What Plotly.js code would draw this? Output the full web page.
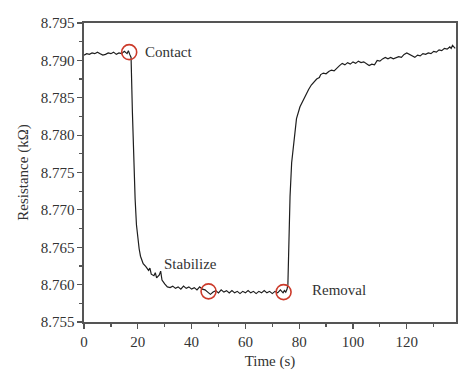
<!DOCTYPE html>
<html>
<head>
<meta charset="utf-8">
<script src="https://cdn.plot.ly/plotly-3.0.1.min.js"></script>
<style>html,body{margin:0;padding:0;background:#fff;}#chart{width:474px;height:384px;}</style>
</head>
<body>
<div id="chart"></div>
<script>
// Time (s)
const timeS = [0,1,2,3,4,5,6,7,8,9,10,11,12,13,14,15,16,16.5,17,17.5,18,18.5,19,19.5,20,20.5,21,21.5,22,23,24,24.5,25,26,26.5,27,28,28.5,29,30,31,32,33,34,35,36,37,38,39,40,41,42,43,44,45,46,47,48,49,50,51,52,53,54,55,56,57,58,59,60,61,62,63,64,65,66,67,68,69,70,71,72,73,74,74.5,75,75.5,75.8,76.3,76.6,77.2,78.4,79,80.3,81.5,82.5,83.5,84.5,85.5,86.5,87.5,88,89,90,91,92,93,94,95,96,97,98,99,100,101,102,103,104,105,106,107,108,109,110,111,112,113,114,115,116,117,118,119,120,121,122,123,124,125,126,127,128,129,130,131,132,133,134,135,136,136.5,137,138];
// Resistance (kOhm)
const resistance = [8.7907,8.7909,8.7908,8.7910,8.7909,8.7911,8.7909,8.7907,8.7908,8.7910,8.7909,8.7911,8.7908,8.7910,8.7909,8.7912,8.7909,8.7913,8.7908,8.7904,8.7830,8.7760,8.7715,8.7680,8.7662,8.7648,8.7638,8.7632,8.7628,8.7624,8.7619,8.7622,8.7614,8.7612,8.7616,8.7609,8.7613,8.7618,8.7606,8.7601,8.7597,8.7596,8.7598,8.7595,8.7597,8.7594,8.7598,8.7595,8.7597,8.7594,8.7596,8.7593,8.7597,8.7594,8.7593,8.7590,8.7587,8.7590,8.7592,8.7589,8.7593,8.7590,8.7592,8.7589,8.7592,8.7589,8.7591,8.7588,8.7591,8.7589,8.7592,8.7589,8.7591,8.7588,8.7591,8.7589,8.7592,8.7589,8.7591,8.7588,8.7591,8.7589,8.7593,8.7589,8.7592,8.7590,8.7594,8.7600,8.7690,8.7718,8.7763,8.7807,8.7822,8.7838,8.7847,8.7855,8.7861,8.7867,8.7871,8.7875,8.7877,8.7881,8.7883,8.7882,8.7885,8.7887,8.7886,8.7890,8.7893,8.7896,8.7894,8.7897,8.7895,8.7898,8.7896,8.7899,8.7897,8.7898,8.7895,8.7893,8.7895,8.7894,8.7900,8.7899,8.7902,8.7904,8.7902,8.7904,8.7902,8.7903,8.7905,8.7904,8.7908,8.7910,8.7908,8.7906,8.7904,8.7907,8.7906,8.7909,8.7908,8.7910,8.7909,8.7912,8.7911,8.7914,8.7913,8.7916,8.7915,8.7918,8.7916,8.7920,8.7916];
// Marked events
const eventTimes = [16.8, 46.3, 74.2];
const eventValues = [8.7911, 8.7591, 8.7590];
const labelTexts = ['Contact', 'Stabilize', 'Removal'];
const labelTimes = [21.9, 39.7, 84.1];
const labelValues = [8.7911, 8.7627, 8.7593];
const labelAnchors = ['left', 'center', 'left'];
const xTicks = [0, 20, 40, 60, 80, 100, 120];
const yTicks = [8.755, 8.760, 8.765, 8.770, 8.775, 8.780, 8.785, 8.790, 8.795];

const FONT = 'Liberation Serif, Times New Roman, serif';
const TXT = '#333333';

const traces = [
  {x: timeS, y: resistance, type: 'scatter', mode: 'lines',
   line: {color: '#1e1e1e', width: 1.2}, hoverinfo: 'skip'},
  {x: eventTimes, y: eventValues, type: 'scatter', mode: 'markers',
   marker: {symbol: 'circle-open', size: 15, color: '#cc3a2a', line: {width: 1.6, color: '#cc3a2a'}}, hoverinfo: 'skip'}
];

const annotations = labelTexts.map((t, i) => ({
  x: labelTimes[i], y: labelValues[i], xref: 'x', yref: 'y', text: t,
  showarrow: false, xanchor: labelAnchors[i], yanchor: 'middle',
  font: {family: FONT, size: 15, color: TXT}
}));

const axisCommon = {
  showline: true, linecolor: '#555555', linewidth: 1.6, mirror: true,
  showgrid: false, zeroline: false, ticks: 'outside', ticklen: 5, tickwidth: 1.2,
  tickcolor: '#555555', tickfont: {family: FONT, size: 15, color: TXT}
};

const layout = {
  width: 474, height: 384,
  margin: {l: 84, r: 18, t: 23, b: 62},
  paper_bgcolor: '#ffffff', plot_bgcolor: '#ffffff',
  showlegend: false,
  xaxis: Object.assign({}, axisCommon, {
    range: [0, 138.3], tickmode: 'array', tickvals: xTicks, ticktext: xTicks.map(String),
    minor: {dtick: 10, tick0: 0, ticks: 'outside', ticklen: 3, tickcolor: '#555555', showgrid: false},
    title: {text: 'Time (s)', font: {family: FONT, size: 15, color: TXT}, standoff: 7}
  }),
  yaxis: Object.assign({}, axisCommon, {
    range: [8.755, 8.795], tickmode: 'array', tickvals: yTicks, ticktext: yTicks.map(v => v.toFixed(3)),
    minor: {dtick: 0.0025, tick0: 8.755, ticks: 'outside', ticklen: 3, tickcolor: '#555555', showgrid: false},
    title: {text: 'Resistance (kΩ)', font: {family: FONT, size: 15, color: TXT}, standoff: 8}
  }),
  annotations: annotations
};

Plotly.newPlot('chart', traces, layout, {staticPlot: true, displayModeBar: false});
</script>
</body>
</html>
